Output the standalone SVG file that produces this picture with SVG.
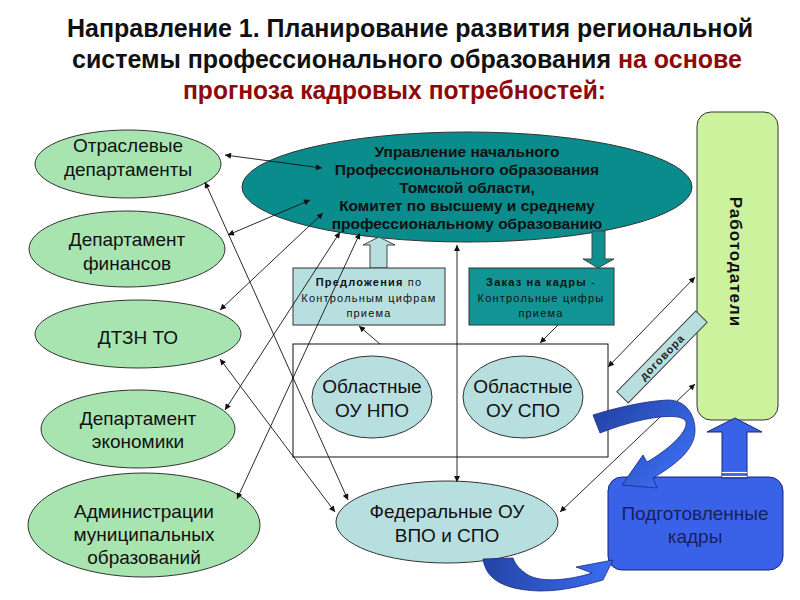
<svg xmlns="http://www.w3.org/2000/svg" width="800" height="600" viewBox="0 0 800 600">
<defs>
<style>
.title{font-family:"Liberation Sans Narrow","Arial Narrow","Liberation Sans",Arial,sans-serif;font-weight:bold;font-size:25px;fill:#111}
.red{fill:#8e0a0a}
.ln{fill:#a8e4b0;stroke:#333;stroke-width:1}
.lt{font-family:"Liberation Sans",Arial,sans-serif;font-size:19px;fill:#111;text-anchor:middle}
.lb{fill:#b8dfe0;stroke:#333;stroke-width:1}
.ct{font-family:"Liberation Sans",Arial,sans-serif;font-weight:bold;font-size:15.5px;fill:#111;text-anchor:middle}
.bt{font-family:"Liberation Sans",Arial,sans-serif;font-size:11px;letter-spacing:1.2px;fill:#111;text-anchor:middle}
.con{stroke:#111;stroke-width:0.9;fill:none}
.dbl{marker-start:url(#ah);marker-end:url(#ah)}
.one{marker-end:url(#ah)}
.kt{font-family:"Liberation Sans",Arial,sans-serif;font-size:19px;fill:#1a1f5c;text-anchor:middle}
</style>
<marker id="ah" viewBox="0 0 10 10" refX="10" refY="5" markerWidth="7" markerHeight="6" markerUnits="userSpaceOnUse" orient="auto-start-reverse">
<path d="M0,0 L10,5 L0,10 Z" fill="#111"/>
</marker>
<linearGradient id="g1" gradientUnits="userSpaceOnUse" x1="610" y1="405" x2="680" y2="470">
<stop offset="0" stop-color="#2446a8"/><stop offset="1" stop-color="#3b6cf0"/>
</linearGradient>
<linearGradient id="g2" gradientUnits="userSpaceOnUse" x1="490" y1="570" x2="610" y2="570">
<stop offset="0" stop-color="#2446a8"/><stop offset="1" stop-color="#3b6cf0"/>
</linearGradient>
</defs>
<rect width="800" height="600" fill="#fff"/>

<g id="title">
<text class="title" x="67" y="37" textLength="686" lengthAdjust="spacingAndGlyphs">Направление 1. Планирование развития региональной</text>
<text class="title" x="72" y="68" textLength="670" lengthAdjust="spacingAndGlyphs">системы профессионального образования <tspan class="red">на основе</tspan></text>
<text class="title red" x="183" y="99" textLength="423" lengthAdjust="spacingAndGlyphs">прогноза кадровых потребностей:</text>
</g>

<g id="oblast-frame">
<rect x="293" y="344" width="315" height="113" fill="#fff" stroke="#111" stroke-width="1"/>
</g>

<g id="central">
<ellipse cx="467" cy="187" rx="225" ry="55" fill="#0a8c8c" stroke="#333" stroke-width="1"/>
<text class="ct" x="467" y="157">Управление начального</text>
<text class="ct" x="467" y="175">Профессионального образования</text>
<text class="ct" x="467" y="193">Томской области,</text>
<text class="ct" x="467" y="211">Комитет по высшему и среднему</text>
<text class="ct" x="467" y="229">профессиональному образованию</text>
</g>

<g id="up-arrow-proposals">
<polygon points="370,268 370,245 363,245 379,237 395,245 387,245 387,268" fill="#b8dfe0" stroke="#444" stroke-width="1"/>
</g>
<g id="down-arrow-order">
<polygon points="592,231 605,231 605,259 614,259 598,268 583,259 592,259" fill="#0f9090" stroke="#444" stroke-width="1"/>
</g>

<g id="proposals">
<rect x="293" y="268" width="152" height="57" fill="#b8dfe0" stroke="#333" stroke-width="1"/>
<text class="bt" x="369" y="286"><tspan font-weight="bold">Предложения</tspan> по</text>
<text class="bt" x="369" y="302">Контрольным цифрам</text>
<text class="bt" x="369" y="317">приема</text>
</g>

<g id="order">
<rect x="469" y="268" width="145" height="57" fill="#139494" stroke="#333" stroke-width="1"/>
<text class="bt" x="541" y="286"><tspan font-weight="bold">Заказ на кадры</tspan> -</text>
<text class="bt" x="541" y="302">Контрольные цифры</text>
<text class="bt" x="541" y="317">приема</text>
</g>

<g id="otrasl">
<ellipse class="ln" cx="128" cy="164" rx="93" ry="34"/>
<text class="lt" x="128" y="152">Отраслевые</text>
<text class="lt" x="128" y="176">департаменты</text>
</g>
<g id="finance">
<ellipse class="ln" cx="127" cy="249" rx="98" ry="38"/>
<text class="lt" x="127" y="246">Департамент</text>
<text class="lt" x="127" y="270">финансов</text>
</g>
<g id="dtzn">
<ellipse class="ln" cx="138" cy="334" rx="103" ry="34"/>
<text class="lt" x="138" y="344">ДТЗН ТО</text>
</g>
<g id="economy">
<ellipse class="ln" cx="138" cy="429" rx="97" ry="39"/>
<text class="lt" x="138" y="425">Департамент</text>
<text class="lt" x="138" y="448">экономики</text>
</g>
<g id="admin">
<ellipse class="ln" cx="144" cy="525" rx="116" ry="52"/>
<text class="lt" x="144" y="518">Администрации</text>
<text class="lt" x="144" y="541">муниципальных</text>
<text class="lt" x="144" y="564">образований</text>
</g>

<g id="npo">
<ellipse class="lb" cx="372" cy="397" rx="60" ry="41"/>
<text class="lt" x="372" y="393">Областные</text>
<text class="lt" x="372" y="417">ОУ НПО</text>
</g>
<g id="spo">
<ellipse class="lb" cx="523" cy="397" rx="60" ry="41"/>
<text class="lt" x="523" y="393">Областные</text>
<text class="lt" x="523" y="417">ОУ СПО</text>
</g>
<g id="federal">
<ellipse class="lb" cx="447" cy="522" rx="111" ry="41"/>
<text class="lt" x="447" y="518">Федеральные ОУ</text>
<text class="lt" x="447" y="542">ВПО и СПО</text>
</g>

<g id="employers">
<rect x="697" y="112" width="81" height="308" rx="14" fill="#ccf29e" stroke="#333" stroke-width="1"/>
<text transform="translate(736,262) rotate(90)" x="0" y="6" font-family="Liberation Sans, Arial, sans-serif" font-weight="bold" font-size="17" letter-spacing="1" fill="#111" text-anchor="middle">Работодатели</text>
</g>

<g id="contracts">
<rect x="-56.5" y="-8" width="113" height="16" fill="#b8dfe0" stroke="#444" stroke-width="1" transform="translate(662,357) rotate(-45.7)"/>
<text transform="translate(662,357) rotate(-45.7)" x="0" y="4" font-family="Liberation Sans, Arial, sans-serif" font-weight="bold" font-size="11" letter-spacing="1" fill="#222" text-anchor="middle">договора</text>
</g>

<g id="connectors">
<line class="con dbl" x1="225" y1="155" x2="322" y2="168"/>
<line class="con dbl" x1="228" y1="235" x2="310" y2="200"/>
<line class="con dbl" x1="220" y1="310" x2="323" y2="213"/>
<line class="con dbl" x1="205" y1="182" x2="348" y2="500"/>
<line class="con dbl" x1="225" y1="410" x2="340" y2="232"/>
<line class="con dbl" x1="237" y1="499" x2="360" y2="233"/>
<line class="con dbl" x1="220" y1="359" x2="335" y2="512"/>
<line class="con one" x1="380" y1="344" x2="359" y2="326"/>
<line class="con one" x1="558" y1="325" x2="540" y2="343"/>
<line class="con dbl" x1="695" y1="277" x2="608" y2="367"/>
<line class="con dbl" x1="695" y1="384" x2="560" y2="512"/>
<line class="con dbl" x1="457" y1="245" x2="457" y2="482"/>
</g>

<g id="trained">
<rect x="608" y="477" width="175" height="93" rx="14" fill="#3a62e8" stroke="#1a2470" stroke-width="1"/>
<text class="kt" x="695" y="520">Подготовленные</text>
<text class="kt" x="695" y="543">кадры</text>
</g>

<g id="block-arrows">
<polygon points="722,478 722,432 707,432 735,418 762,432 747,432 747,478" fill="#3a62e8" stroke="#1a2470" stroke-width="1"/>
<line x1="722" y1="472.5" x2="747" y2="472.5" stroke="#fff" stroke-width="1.2"/>
<line x1="722" y1="476.5" x2="747" y2="476.5" stroke="#fff" stroke-width="1.2"/>
<path d="M593,415 C615,408 645,401 668,400 C686,400 695,415 695,430 C695,450 675,465 653,478 L657,488 L622,485 L643,455 L647,462 C668,450 688,432 686,422 C684,416 672,416 660,417 C640,419 615,427 600,433 Z" fill="url(#g1)" stroke="#1a2a80" stroke-width="0.8"/>
<path d="M483,559 C486,580 505,590 540,591 C565,591 585,585 603,580 L613,560 L576,567 L592,573 C570,580 542,583 528,575 C520,570 515,564 513,558 Z" fill="url(#g2)" stroke="#1a2a80" stroke-width="0.8"/>
</g>
</svg>
